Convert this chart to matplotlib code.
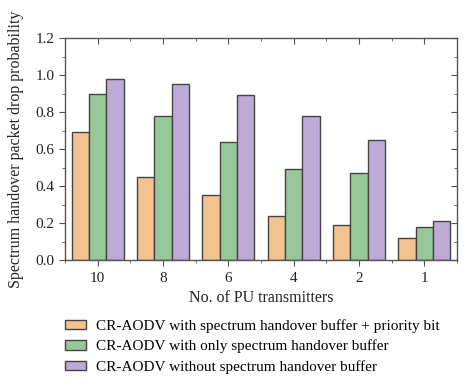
import matplotlib
matplotlib.use("Agg")
import matplotlib.pyplot as plt
import numpy as np
from matplotlib.ticker import MultipleLocator, FixedLocator

categories = ["10", "8", "6", "4", "2", "1"]
series_names = [
    "CR-AODV with spectrum handover buffer + priority bit",
    "CR-AODV with only spectrum handover buffer",
    "CR-AODV without spectrum handover buffer",
]
buffer_priority = [0.69, 0.45, 0.35, 0.24, 0.19, 0.12]
buffer_only = [0.90, 0.78, 0.64, 0.49, 0.47, 0.18]
no_buffer = [0.98, 0.95, 0.89, 0.78, 0.65, 0.21]
colors = ["#F2C28F", "#98C897", "#BDAAD6"]

plt.rcParams['font.family'] = ['Liberation Serif', 'DejaVu Serif']

fig = plt.figure(figsize=(4.74, 3.89), dpi=100)
ax = fig.add_axes([65/474, 1-260/389, (457-65)/474, (260-38)/389])

x = np.arange(len(categories))
w = 0.265
for i, (vals, c, name) in enumerate(zip([buffer_priority, buffer_only, no_buffer], colors, series_names)):
    ax.bar(x + (i-1)*w, vals, w, color=c, edgecolor="#444444", linewidth=1.0, label=name)

ax.set_xlim(-0.5, len(categories)-0.5)
ax.set_ylim(0, 1.2)
ax.set_xticks(x)
ax.set_xticklabels(categories)
ax.xaxis.set_minor_locator(FixedLocator(np.arange(-0.5, len(categories), 1.0)))
ax.yaxis.set_major_locator(MultipleLocator(0.2))
ax.yaxis.set_minor_locator(MultipleLocator(0.1))
ax.yaxis.set_major_formatter(matplotlib.ticker.FormatStrFormatter('%.1f'))

for s in ax.spines.values():
    s.set_color("#555555")
    s.set_linewidth(1.0)
ax.tick_params(axis='both', which='both', direction='out', colors="#555555", labelcolor="#222222", labelsize=11)
ax.tick_params(axis='x', pad=5)
ax.tick_params(which='major', length=4)
ax.tick_params(which='minor', length=2.5)
# mirrored ticks via secondary axes
axt = ax.secondary_xaxis('top')
axt.set_xticks(x)
axt.xaxis.set_minor_locator(FixedLocator(np.arange(-0.5, len(categories), 1.0)))
axt.tick_params(which='both', direction='in', labeltop=False, colors="#555555")
axt.tick_params(which='major', length=4)
axt.tick_params(which='minor', length=2.5)
axr = ax.secondary_yaxis('right')
axr.yaxis.set_major_locator(MultipleLocator(0.2))
axr.yaxis.set_minor_locator(MultipleLocator(0.1))
axr.tick_params(which='both', direction='in', labelright=False, colors="#555555")
axr.tick_params(which='major', length=4)
axr.tick_params(which='minor', length=2.5)
for a in (axt, axr):
    for s in a.spines.values():
        s.set_visible(False)

ax.set_xlabel("No. of PU transmitters", fontsize=11.5, color="#222222", labelpad=3)
ax.set_ylabel("Spectrum handover packet drop probability", fontsize=11.5, color="#222222", labelpad=8)

handles, labels = ax.get_legend_handles_labels()
fig.legend(handles, labels, loc='upper left', bbox_to_anchor=(65/474, 1-319/389),
           frameon=False, fontsize=11, handlelength=1.4, handleheight=0.55,
           labelspacing=0.45, handletextpad=0.6, borderaxespad=0, borderpad=0)

fig.savefig("out.png", dpi=100)
